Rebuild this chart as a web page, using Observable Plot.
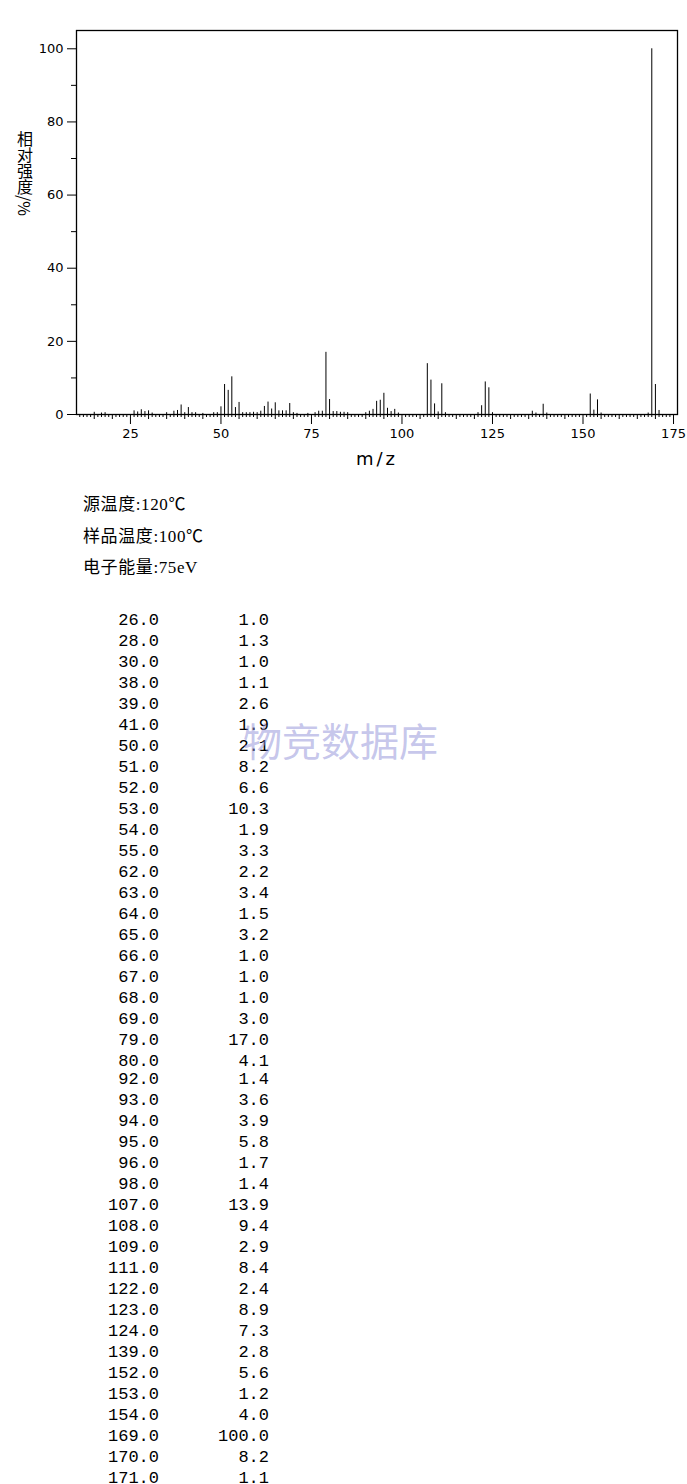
<!DOCTYPE html>
<html>
<head>
<meta charset="utf-8">
<script src="https://cdn.jsdelivr.net/npm/d3@7"></script>
<script src="https://cdn.jsdelivr.net/npm/@observablehq/plot@0.6"></script>
<style>
  html, body { margin: 0; padding: 0; background: #fff; }
  #wrap { position: relative; width: 687px; }
  #info { margin-top: 9px; padding-left: 83px; font-family: "Liberation Serif", "Noto Sans CJK SC", serif; font-size: 17px; letter-spacing: 0.6px; line-height: 31.5px; color: #000; }
  #table { margin-top: 26px; font-family: "Liberation Mono", "DejaVu Sans Mono", monospace; font-size: 17px; line-height: 21px; color: #000; }
  .row { white-space: pre; height: 21px; }
  .c1 { display: inline-block; width: 159px; text-align: right; }
  .c2 { display: inline-block; width: 110px; text-align: right; }
  #wm { position: absolute; left: 243px; top: 717px; font-family: "Noto Sans CJK SC", sans-serif; font-size: 39px; line-height: 44px; color: rgba(150, 150, 218, 0.55); white-space: nowrap; pointer-events: none; }
</style>
</head>
<body>
<div id="wrap">
  <div id="chart"></div>
  <div id="info"></div>
  <div id="table"></div>
  <div id="wm"></div>
</div>
<script>
// Main peaks (m/z, relative intensity %) as listed in the table
const peakMz = [26, 28, 30, 38, 39, 41, 50, 51, 52, 53, 54, 55, 62, 63, 64, 65, 66, 67, 68, 69, 79, 80, 92, 93, 94, 95, 96, 98, 107, 108, 109, 111, 122, 123, 124, 139, 152, 153, 154, 169, 170, 171];
const peakIntensity = [1.0, 1.3, 1.0, 1.1, 2.6, 1.9, 2.1, 8.2, 6.6, 10.3, 1.9, 3.3, 2.2, 3.4, 1.5, 3.2, 1.0, 1.0, 1.0, 3.0, 17.0, 4.1, 1.4, 3.6, 3.9, 5.8, 1.7, 1.4, 13.9, 9.4, 2.9, 8.4, 2.4, 8.9, 7.3, 2.8, 5.6, 1.2, 4.0, 100.0, 8.2, 1.1];

// Small peaks (< 1 %)
const minorMz = [15, 17, 18, 27, 29, 31, 35, 37, 40, 42, 43, 45, 48, 49, 56, 57, 58, 59, 60, 61, 70, 71, 74, 76, 77, 78, 81, 82, 83, 84, 85, 90, 91, 97, 99, 110, 112, 121, 125, 136, 137, 140, 155, 168];
const minorIntensity = [0.6, 0.4, 0.5, 0.7, 0.8, 0.4, 0.5, 0.9, 0.5, 0.5, 0.5, 0.3, 0.5, 0.5, 0.5, 0.5, 0.5, 0.6, 0.5, 0.9, 0.5, 0.3, 0.3, 0.5, 0.9, 0.9, 0.8, 0.8, 0.6, 0.6, 0.5, 0.5, 0.9, 0.8, 0.4, 0.7, 0.5, 0.5, 0.5, 0.9, 0.4, 0.4, 0.4, 0.4];

const yMajorTicks = [0, 20, 40, 60, 80, 100];
const yMinorTicks = [10, 30, 50, 70, 90];
const xMajorTicks = [25, 50, 75, 100, 125, 150, 175];
const xMidTicks = d3.range(15, 176, 5).filter(d => d % 25 !== 0);
const xMinorTicks = d3.range(11, 176).filter(d => d % 5 !== 0);

const yLabel = "相对强度/%";
const xLabel = "m/z";
const infoLines = ["源温度:120℃", "样品温度:100℃", "电子能量:75eV"];
const watermark = "物竞数据库";

const bars = peakMz.map((m, i) => ({mz: m, i: peakIntensity[i]}))
  .concat(minorMz.map((m, i) => ({mz: m, i: minorIntensity[i]})));

const plot = Plot.plot({
  width: 687,
  height: 480,
  marginLeft: 76,
  marginRight: 10,
  marginTop: 30,
  marginBottom: 66,
  style: {fontFamily: "DejaVu Sans", fontSize: "13px", color: "#000", background: "#fff", overflow: "visible"},
  x: {domain: [10.1, 176.1]},
  y: {domain: [0, 105]},
  marks: [
    Plot.ruleX(bars, {x: "mz", y1: 0, y2: "i", stroke: "#000", strokeWidth: 1}),
    Plot.frame({stroke: "#000", strokeWidth: 1.3}),
    Plot.axisY({ticks: yMajorTicks, tickSize: 9, tickPadding: 4, label: null, fontSize: 13}),
    Plot.axisY({ticks: yMinorTicks, tickSize: 5, text: null, label: null}),
    Plot.axisX({ticks: xMajorTicks, tickSize: 10, tickPadding: 4, label: null, fontSize: 13}),
    Plot.axisX({ticks: xMidTicks, tickSize: 5, text: null, label: null}),
    Plot.axisX({ticks: xMinorTicks, tickSize: 3, text: null, label: null}),
    Plot.text([xLabel], {frameAnchor: "bottom", dy: 50, text: d => d, fontSize: 18, fill: "#000"})
  ]
});
document.getElementById("chart").appendChild(plot);

d3.select(plot).selectAll("text")
  .filter(function() { return this.textContent === xLabel; })
  .style("letter-spacing", "3px");

// vertical y-axis label (CJK upright)
d3.select(plot).append("text")
  .attr("x", 25)
  .attr("y", 131)
  .attr("fill", "#000")
  .style("writing-mode", "vertical-rl")
  .style("font-family", "'Noto Sans CJK SC', sans-serif")
  .style("font-size", "16px")
  .attr("text-anchor", "start")
  .text(yLabel);

document.getElementById("info").innerHTML = infoLines.map(s => `<div>${s}</div>`).join("");
document.getElementById("wm").textContent = watermark;

const tbl = document.getElementById("table");
peakMz.forEach((m, i) => {
  const row = document.createElement("div");
  row.className = "row";
  if (m === 92) row.style.marginTop = "-3px";
  row.innerHTML = `<span class="c1">${m.toFixed(1)}</span><span class="c2">${peakIntensity[i].toFixed(1)}</span>`;
  tbl.appendChild(row);
});
</script>
</body>
</html>
